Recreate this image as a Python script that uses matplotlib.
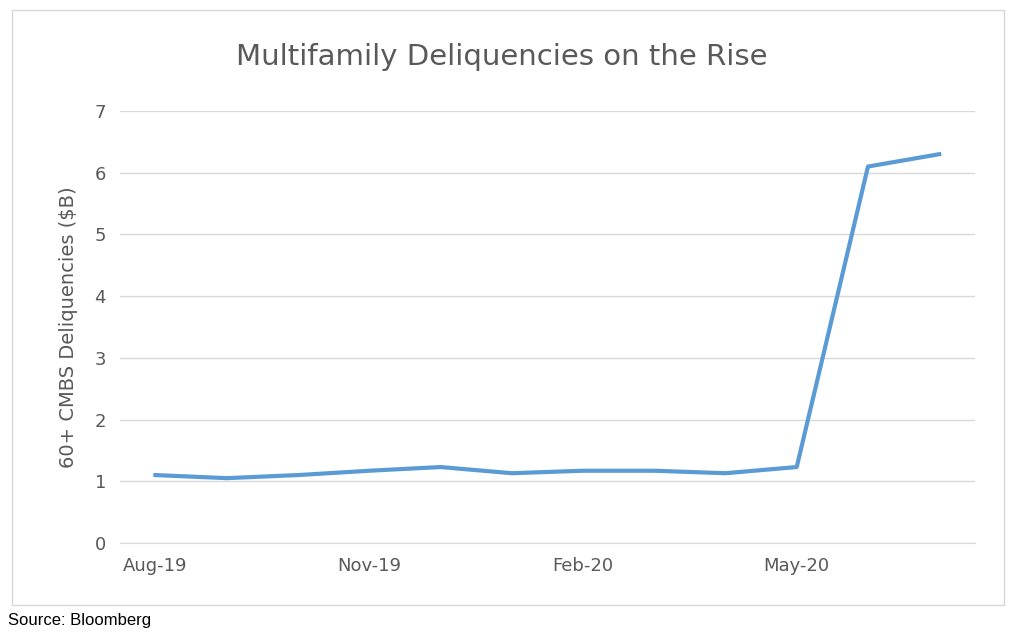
import matplotlib.pyplot as plt
from matplotlib.patches import Rectangle

months = ['Aug-19', 'Sep-19', 'Oct-19', 'Nov-19', 'Dec-19', 'Jan-20',
          'Feb-20', 'Mar-20', 'Apr-20', 'May-20', 'Jun-20', 'Jul-20']
values = [1.10, 1.05, 1.10, 1.17, 1.23, 1.13, 1.17, 1.17, 1.13, 1.23, 6.10, 6.30]
tick_labels = ['Aug-19', 'Nov-19', 'Feb-20', 'May-20']

fig = plt.figure(figsize=(10.24, 6.38), dpi=100)
fig.patches.append(Rectangle((0.012, 0.052), 0.968, 0.932, transform=fig.transFigure,
                             fill=False, edgecolor='#d9d9d9', linewidth=1))
ax = fig.add_axes([0.117, 0.149, 0.835, 0.677])

x = list(range(len(months)))
ax.plot(x, values, color='#5b9bd5', linewidth=3)
ax.set_xlim(-0.5, len(months) - 0.5)
ax.set_ylim(0, 7)
ax.set_yticks(range(8))
ax.set_xticks([months.index(t) for t in tick_labels])
ax.set_xticklabels(tick_labels)
ax.grid(axis='y', color='#d9d9d9', linewidth=1)
ax.set_axisbelow(True)
for s in ['top', 'right', 'left']:
    ax.spines[s].set_visible(False)
ax.spines['bottom'].set_color('#d9d9d9')
ax.tick_params(length=0, labelsize=13, colors='#595959', pad=10)
ax.set_ylabel('60+ CMBS Deliquencies ($B)', fontsize=14, color='#595959', labelpad=12)
fig.text(0.49, 0.91, 'Multifamily Deliquencies on the Rise', ha='center', va='center',
         fontsize=21, color='#595959')
fig.text(0.008, 0.027, 'Source: Bloomberg', fontsize=12, color='black', va='center',
         family='Liberation Sans')
fig.savefig('out.png', dpi=100)
